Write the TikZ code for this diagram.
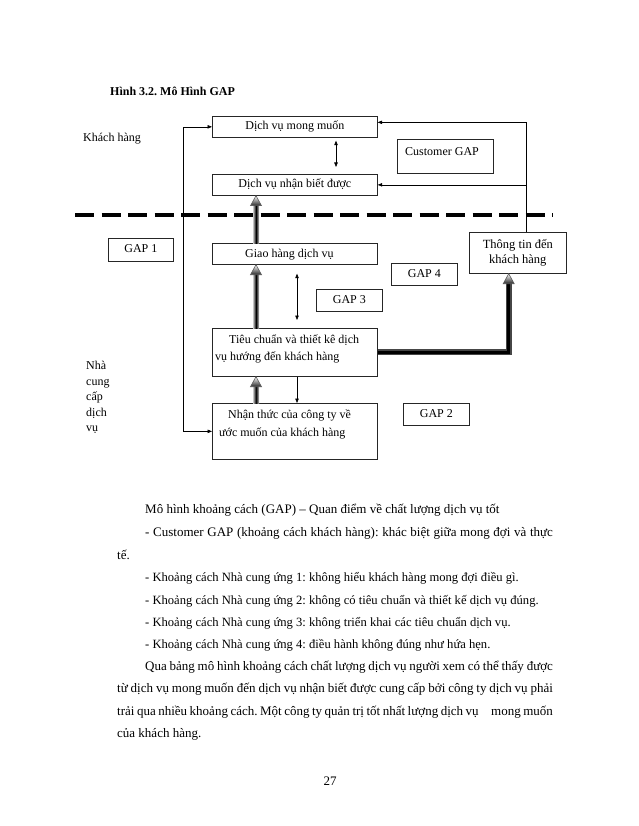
\documentclass[tikz,border=0pt]{standalone}
\usepackage{fontspec}
\setmainfont{Liberation Serif}
\usetikzlibrary{arrows.meta,calc}
\frenchspacing
\newcommand\gapthickup[2]{%
  \shade[left color=gray!45, right color=gray!45, middle color=black] ($(#1)+(-3,0)$) rectangle ($(#2)+(3,9)$);
  \shade[top color=white, bottom color=black!85, draw=gray!70!black, line width=0.6pt] ($(#2)+(-5.5,10)$) -- (#2) -- ($(#2)+(5.5,10)$) -- cycle;
}
\begin{document}
\frenchspacing
\begin{tikzpicture}[x=1pt,y=-1pt,
  box/.style={draw=black!85, line width=0.7pt, anchor=north west, inner sep=0pt, font=\fontsize{12}{14}\selectfont, text height=8pt, text depth=2.5pt},
  boxp/.style={draw=black!85, line width=0.7pt, anchor=north west, inner sep=0pt, font=\fontsize{12.5}{15}\selectfont, align=center},
  lbl/.style={anchor=base west, inner sep=0pt, font=\fontsize{12}{14}\selectfont},
  body/.style={anchor=base west, inner sep=0pt, font=\fontsize{13}{15}\selectfont},
  bodyn/.style={anchor=base west, inner sep=0pt, font=\fontsize{12.6}{15}\selectfont},
  thinln/.style={line width=0.6pt, black},
  tip/.style={-{Triangle[length=4.5pt,width=3.5pt]}},
  tips/.style={{Triangle[length=4.5pt,width=3.5pt]}-{Triangle[length=4.5pt,width=3.5pt]}}
]
\fill[white] (0,0) rectangle (638,826);
\useasboundingbox (0,0) rectangle (638,826);

% title
\node[anchor=base west, inner sep=0pt, font=\bfseries\fontsize{12}{14}\selectfont] (title) at (110,96) {Hình 3.2. Mô Hình GAP};

% side labels
\node[lbl] (kh) at (83,142) {Khách hàng};
\node[lbl] (n1) at (86,369.5) {Nhà};
\node[lbl] (n2) at (86,385) {cung};
\node[lbl] (n3) at (86,400.5) {cấp};
\node[lbl] (n4) at (86,416) {dịch};
\node[lbl] (n5) at (86,431.5) {vụ};

% dashed separator
\draw[line width=3.5pt, dash pattern=on 19pt off 7.5pt] (75,215) -- (553,215);

% boxes
\node[box, minimum width=165pt, minimum height=21pt] (mong) at (212,116) {Dịch vụ mong muốn};
\node[box, minimum width=96pt, minimum height=34pt] (cgap) at (397,139) {};
\node[lbl] (cgapt) at ($(cgap.north west)+(8,16.5)$) {Customer GAP};
\node[box, minimum width=165pt, minimum height=21pt] (nb) at (212,174) {Dịch vụ nhận biết được};
\node[box, minimum width=65pt, minimum height=23pt] (gap1) at (108,238) {GAP 1};
\node[box, minimum width=165pt, minimum height=21pt] (giao) at (212,243) {};
\node[lbl] (giaot) at (245,257) {Giao hàng dịch vụ};
\node[boxp, minimum width=97pt, minimum height=41pt] (thong) at (469,232) {Thông tin đến\\khách hàng};
\node[box, minimum width=66pt, minimum height=22pt] (gap4) at (391,263) {GAP 4};
\node[box, minimum width=66pt, minimum height=22pt] (gap3) at (316,289) {GAP 3};
\node[box, minimum width=165pt, minimum height=48pt] (tieu) at (212,328) {};
\node[lbl] (tieu1) at (229,343) {Tiêu chuẩn và thiết kê dịch};
\node[lbl] (tieu2) at (215,360) {vụ hướng đến khách hàng};
\node[box, minimum width=165pt, minimum height=56pt] (nhan) at (212,403) {};
\node[lbl] (nhan1) at (228,418) {Nhận thức của công ty về};
\node[lbl] (nhan2) at (219,436) {ước muốn của khách hàng};
\node[box, minimum width=66pt, minimum height=22pt] (gap2) at (403,403) {GAP 2};

% thin connectors
\coordinate (L) at (183,0);
\coordinate (R) at (526,0);
\draw[thinln, tips] (mong.west) -- (mong.west -| L) -- (nhan.west -| L) -- (nhan.west);
\coordinate (mt) at ($(mong.east)+(0,-4.5)$);
\draw[thinln, tip] (thong.north -| R) |- (mt);
\draw[thinln, tip] (nb.east -| R) -- (nb.east);
\draw[thinln, tips] ($(mong.south west)+(124,3)$) -- ($(nb.north west)+(124,-7)$);
\draw[thinln, tips] ($(giao.south west)+(85,9)$) -- ($(tieu.north west)+(85,-8)$);
\draw[thinln, tip] ($(tieu.south west)+(85,0)$) -- ($(nhan.north west)+(85,0)$);

% thick arrows
\coordinate (a1) at ($(nhan.north west)+(44,0)$);
\coordinate (a1t) at ($(tieu.south west)+(44,0)$);
\coordinate (a2) at ($(tieu.north west)+(44,0)$);
\coordinate (a2t) at ($(giao.south west)+(44,0)$);
\coordinate (a3) at ($(giao.north west)+(44,0)$);
\coordinate (a3t) at ($(nb.south west)+(44,0)$);
\gapthickup{a1}{a1t}
\gapthickup{a2}{a2t}
\gapthickup{a3}{a3t}

\coordinate (e1) at ($(tieu.east)+(131,0)$);
\coordinate (e2) at (thong.south -| e1);
\draw[line width=6pt, gray!55!black, line join=miter] (tieu.east) -- (e1) -- ($(e2)+(0,9)$);
\draw[line width=3pt, black, line join=miter] (tieu.east) -- (e1) -- ($(e2)+(0,9)$);
\shade[top color=white, bottom color=black!85, draw=gray!70!black, line width=0.6pt] ($(e2)+(-5.5,10)$) -- (e2) -- ($(e2)+(5.5,10)$) -- cycle;

% body text
\node[body] (p1) at (145,513.5) {Mô hình khoảng cách (GAP) – Quan điểm về chất lượng dịch vụ tốt};
\node[body] (p2) at (145,536) {\makebox[407.7pt][s]{- Customer GAP (khoảng cách khách hàng): khác biệt giữa mong đợi và thực}};
\node[body] (p3) at (117,559) {tế.};
\node[bodyn] (p4) at (145,581.5) {- Khoảng cách Nhà cung ứng 1: không hiểu khách hàng mong đợi điều gì.};
\node[bodyn] (p5) at (145,604) {- Khoảng cách Nhà cung ứng 2: không có tiêu chuẩn và thiết kế dịch vụ đúng.};
\node[bodyn] (p6) at (145,626.5) {- Khoảng cách Nhà cung ứng 3: không triển khai các tiêu chuẩn dịch vụ.};
\node[bodyn] (p7) at (145,648.5) {- Khoảng cách Nhà cung ứng 4: điều hành không đúng như hứa hẹn.};
\node[body] (p8) at (145,670.5) {\makebox[407.7pt][s]{Qua bảng mô hình khoảng cách chất lượng dịch vụ người xem có thể thấy được}};
\node[body] (p9) at (117,692.5) {\makebox[435.7pt][s]{từ dịch vụ mong muốn đến dịch vụ nhận biết được cung cấp bởi công ty dịch vụ phải}};
\node[body] (p10) at (117,715) {\makebox[435.7pt][s]{trải qua nhiều khoảng cách. Một công ty quản trị tốt nhất lượng dịch vụ\hspace{10pt} mong muốn}};
\node[body] (p11) at (117,737) {của khách hàng.};
\node[body, anchor=base] (pg) at (330,785.5) {27};
\end{tikzpicture}
\end{document}
